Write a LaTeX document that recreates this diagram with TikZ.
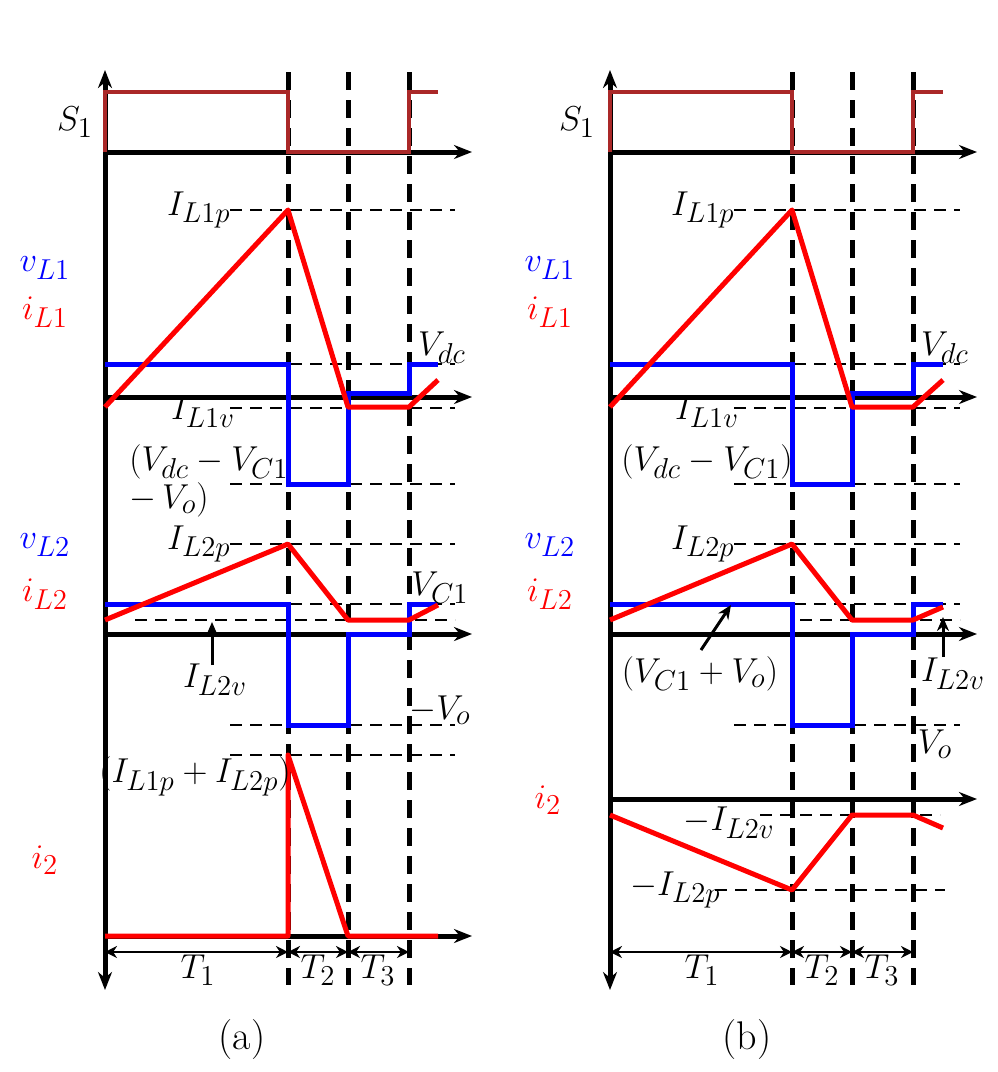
\documentclass[tikz,border=0pt]{standalone}
\usetikzlibrary{arrows.meta}
\definecolor{sw}{RGB}{170,40,40}
\begin{document}
\begin{tikzpicture}[x=0.5pt,y=-0.5pt,
  ax/.style={line width=2.5pt,-{Stealth[length=9pt,width=7pt]}},
  vd/.style={line width=2.5pt,dash pattern=on 9pt off 5pt},
  hd/.style={line width=1pt,dash pattern=on 6pt off 4pt},
  wr/.style={line width=2.5pt,red,line join=round},
  wb/.style={line width=2.5pt,blue},
  ws/.style={line width=2pt,sw},
  lb/.style={font=\fontsize{19}{21}\selectfont,inner sep=0.5pt},
  dim/.style={line width=1.2pt,{Stealth[length=6pt,width=6pt]}-{Stealth[length=6pt,width=6pt]}}]
\useasboundingbox (0,0) rectangle (997,1072);
% ===================== panel (a)
\draw[line width=2.5pt,{Stealth[length=9pt,width=7pt]}-{Stealth[length=9pt,width=7pt]}] (105,70) -- (105,990);
\foreach \x in {288,348,409} \draw[vd] (\x,72) -- (\x,985);
\draw[ax] (105,152) -- (472,152);
\draw[ax] (105,397) -- (472,397);
\draw[ax] (105,634) -- (472,634);
\draw[ax] (105,936) -- (472,936);
\draw[ws] (105,152) -- (105,92) -- (288,92) -- (288,152) -- (409,152) -- (409,92) -- (438,92);
\foreach \y in {210,364,408,484,544,604,725,755} \draw[hd] (230,\y) -- (455,\y);
\draw[hd] (135,620) -- (455,620);
\draw[wb] (105,364) -- (288,364) -- (288,484) -- (348,484) -- (348,393) -- (409,393) -- (409,364) -- (438,364);
\draw[wr] (105,407) -- (288,210) -- (348,407) -- (409,407) -- (438,380);
\draw[wb] (105,604) -- (288,604) -- (288,725) -- (348,725) -- (348,634) -- (409,634) -- (409,604) -- (438,604);
\draw[wr] (105,620) -- (288,544) -- (348,620) -- (409,620) -- (438,605);
\draw[wr] (105,936) -- (288,936) -- (288,755) -- (348,936) -- (438,936);
\draw[line width=1.5pt,-{Stealth[length=7pt,width=6pt]}] (212,665) -- (212,622);
\draw[dim] (105,952) -- (288,952);
\draw[dim] (288,952) -- (348,952);
\draw[dim] (348,952) -- (409,952);
\node[lb] (aS) at (75,122) {$S_1$};
\node[lb,blue] (avl1) at (45,268) {$v_{L1}$};
\node[lb,red] (ail1) at (45,312) {$i_{L1}$};
\node[lb,anchor=east] (aIp) at (232,210) {$I_{L1p}$};
\node[lb] (aVdc) at (442,348) {$V_{dc}$};
\node[lb] (aIv) at (203,412) {$I_{L1v}$};
\node[lb,anchor=west] (aVa) at (128,462) {$(V_{dc}-V_{C1}$};
\node[lb,anchor=west] (aVb) at (128,500) {$-\,V_o)$};
\node[lb,blue] (avl2) at (45,545) {$v_{L2}$};
\node[lb,anchor=east] (aI2p) at (232,544) {$I_{L2p}$};
\node[lb,red] (ail2) at (45,594) {$i_{L2}$};
\node[lb] (aVc) at (440,588) {$V_{C1}$};
\node[lb] (aI2v) at (215,680) {$I_{L2v}$};
\node[lb] (aVo) at (440,710) {$-V_o$};
\node[lb] (aIs) at (195,776) {$(I_{L1p}+I_{L2p})$};
\node[lb,red] (ai2) at (45,860) {$i_2$};
\node[lb] (aT1) at (198,970) {$T_1$};
\node[lb] (aT2) at (318,970) {$T_2$};
\node[lb] (aT3) at (378,970) {$T_3$};
\node[font=\fontsize{20}{22}\selectfont\rmfamily] (acap) at (242,1040) {(a)};
% ===================== panel (b)
\draw[line width=2.5pt,{Stealth[length=9pt,width=7pt]}-{Stealth[length=9pt,width=7pt]}] (610,70) -- (610,990);
\foreach \x in {792,852,913} \draw[vd] (\x,72) -- (\x,985);
\draw[ax] (610,152) -- (977,152);
\draw[ax] (610,397) -- (977,397);
\draw[ax] (610,634) -- (977,634);
\draw[ax] (610,799) -- (977,799);
\draw[ws] (610,152) -- (610,92) -- (792,92) -- (792,152) -- (913,152) -- (913,92) -- (943,92);
\foreach \y in {210,364,408,484,544,604,725} \draw[hd] (734,\y) -- (960,\y);
\draw[hd] (800,620) -- (960,620);
\draw[hd] (760,815) -- (940,815);
\draw[hd] (715,890) -- (945,890);
\draw[wb] (610,364) -- (792,364) -- (792,484) -- (852,484) -- (852,393) -- (913,393) -- (913,364) -- (943,364);
\draw[wr] (610,407) -- (792,210) -- (852,407) -- (913,407) -- (943,380);
\draw[wb] (610,604) -- (792,604) -- (792,725) -- (852,725) -- (852,634) -- (913,634) -- (913,604) -- (943,604);
\draw[wr] (610,620) -- (792,544) -- (852,620) -- (913,620) -- (943,607);
\draw[wr] (610,815) -- (792,890) -- (852,815) -- (913,815) -- (943,828);
\draw[line width=1.5pt,-{Stealth[length=7pt,width=6pt]}] (701,650) -- (731,605);
\draw[line width=1.5pt,-{Stealth[length=7pt,width=6pt]}] (943,657) -- (943,617);
\draw[dim] (610,952) -- (792,952);
\draw[dim] (792,952) -- (852,952);
\draw[dim] (852,952) -- (913,952);
\node[lb] (bS) at (577,122) {$S_1$};
\node[lb,blue] (bvl1) at (550,268) {$v_{L1}$};
\node[lb,red] (bil1) at (550,312) {$i_{L1}$};
\node[lb,anchor=east] (bIp) at (736,210) {$I_{L1p}$};
\node[lb] (bVdc) at (945,348) {$V_{dc}$};
\node[lb] (bIv) at (707,412) {$I_{L1v}$};
\node[lb] (bVa) at (707,462) {$(V_{dc}-V_{C1})$};
\node[lb,blue] (bvl2) at (550,545) {$v_{L2}$};
\node[lb,anchor=east] (bI2p) at (736,544) {$I_{L2p}$};
\node[lb,red] (bil2) at (550,594) {$i_{L2}$};
\node[lb] (bVc) at (700,674) {$(V_{C1}+V_o)$};
\node[lb] (bI2v) at (953,674) {$I_{L2v}$};
\node[lb] (bVo) at (935,744) {$V_o$};
\node[lb,red] (bi2) at (548,800) {$i_2$};
\node[lb,anchor=east] (bIm) at (776,823) {$-I_{L2v}$};
\node[lb,anchor=east] (bIn) at (722,890) {$-I_{L2p}$};
\node[lb] (bT1) at (702,970) {$T_1$};
\node[lb] (bT2) at (822,970) {$T_2$};
\node[lb] (bT3) at (882,970) {$T_3$};
\node[font=\fontsize{20}{22}\selectfont\rmfamily] (bcap) at (747,1040) {(b)};
\end{tikzpicture}
\end{document}
